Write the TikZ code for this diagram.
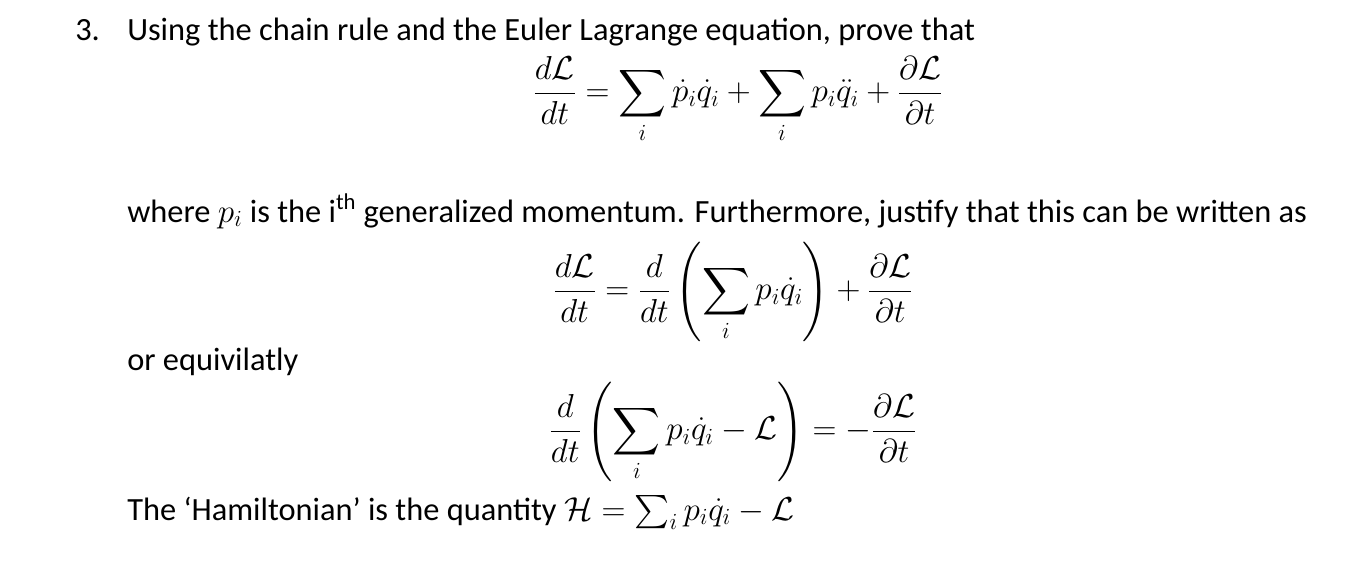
\documentclass[tikz,border=0pt]{standalone}
\usepackage{amsmath}
\usepackage{fontspec}
\setmainfont{Carlito}
\begin{document}
\begin{tikzpicture}[x=0.75pt,y=-0.75pt,
  txt/.style={anchor=base west,inner sep=0pt,font=\fontsize{24.3}{28}\selectfont},
  eq/.style={inner sep=0pt,font=\fontsize{24}{28}\selectfont}]
\useasboundingbox (0,0) rectangle (1360,576);
\node[txt] (n3) at (75,40) {3.};
\node[txt] (l1) at (127,40) {Using the chain rule and the Euler Lagrange equation, prove that};
\node[eq] (e1) at (738,100) {$\displaystyle \frac{d\mathcal{L}}{dt}=\sum_i \dot p_i\dot q_i+\sum_i p_i\ddot q_i+\frac{\partial\mathcal{L}}{\partial t}$};
\node[txt] (l2) at (127,222) {where $p_i$ is the i\textsuperscript{th} generalized momentum. Furthermore, justify that this can be written as};
\node[eq] (e2) at (733,292) {$\displaystyle \frac{d\mathcal{L}}{dt}=\frac{d}{dt}\left(\sum_i p_i\dot q_i\right)+\frac{\partial\mathcal{L}}{\partial t}$};
\node[txt] (l3) at (127,370) {or equivilatly};
\node[eq] (e3) at (733,432) {$\displaystyle \frac{d}{dt}\left(\sum_i p_i\dot q_i-\mathcal{L}\right)=-\frac{\partial\mathcal{L}}{\partial t}$};
\node[txt] (l4) at (127,520) {The ‘Hamiltonian’ is the quantity $\mathcal{H}=\sum_i p_i\dot q_i-\mathcal{L}$};
\end{tikzpicture}
\end{document}
